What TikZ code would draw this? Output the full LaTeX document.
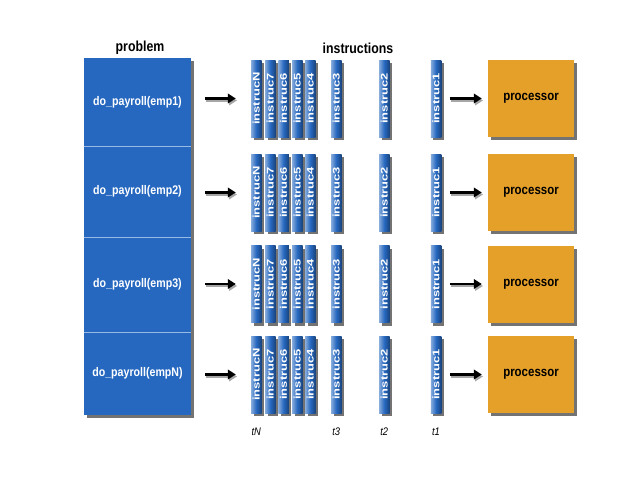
\documentclass[tikz,border=0pt]{standalone}
\usepackage{fontspec}
\setmainfont{Liberation Sans}
\newfontfamily\condfont{Liberation Sans}[FakeStretch=0.85]
\usepackage{graphicx}
\usetikzlibrary{shadows,arrows.meta}
\definecolor{pblue}{RGB}{38,104,192}
\definecolor{porange}{RGB}{229,160,42}
\definecolor{sepline}{RGB}{150,185,230}
\tikzset{
  shad/.style={drop shadow={shadow xshift=2.5pt,shadow yshift=-3pt,opacity=0.55,fill=black}},
  probrow/.style={minimum width=107pt,inner sep=0pt,text=white,font=\condfont\bfseries\fontsize{12.5}{14}\selectfont},
  bar/.style={shad,minimum width=10.5pt,minimum height=77pt,inner sep=0pt,left color=pblue!55!white,right color=pblue!65!black,middle color=pblue,text=white,font=\bfseries\fontsize{9.6}{10}\selectfont},
  proc/.style={shad,fill=porange,minimum width=86pt,minimum height=77pt,inner sep=0pt,font=\condfont\bfseries\fontsize{13.5}{15}\selectfont},
  title/.style={font=\condfont\bfseries\fontsize{14.5}{16}\selectfont},
  tlab/.style={font=\condfont\itshape\fontsize{11}{12}\selectfont},
  arr/.style={line width=2.6pt,-{Triangle[length=8pt,width=9.5pt]},preaction={draw=black!35,line width=2.6pt,transform canvas={shift={(1.2pt,-2pt)}}}}
}
\newcommand{\barlab}[1]{\rotatebox{90}{\scalebox{1.35}[1]{#1}}}
\begin{document}
\begin{tikzpicture}[x=1pt,y=-1pt]
\useasboundingbox (0,0) rectangle (638,479);
\fill[white] (0,0) rectangle (638,479);
% problem column
\node[shad,fill=pblue,minimum width=107pt,minimum height=357pt,inner sep=0pt] (pbox) at (137.5,236.5) {};
\node[probrow,minimum height=88pt] (p1) at (137.5,102) {do\_payroll(emp1)};
\node[probrow,minimum height=91pt] (p2) at (137.5,191.5) {do\_payroll(emp2)};
\node[probrow,minimum height=95pt] (p3) at (137.5,284.5) {do\_payroll(emp3)};
\node[probrow,minimum height=83pt] (p4) at (137.5,373.5) {do\_payroll(empN)};
\draw[sepline,line width=0.8pt] (p1.south west) -- (p1.south east);
\draw[sepline,line width=0.8pt] (p2.south west) -- (p2.south east);
\draw[sepline,line width=0.8pt] (p3.south west) -- (p3.south east);
\node[title] (tprob) at (140,48) {problem};
\node[title] (tinst) at (358,48) {instructions};
% instruction bars and processors
\foreach \r/\yc in {1/98.5,2/192.5,3/284,4/374.5}{
  \foreach \n/\lab/\xc in {N/instrucN/256.25,7/instruc7/270.25,6/instruc6/283.5,5/instruc5/297.25,4/instruc4/310.25,3/instruc3/336.25,2/instruc2/384.25,1/instruc1/436}{
    \node[bar] (b\r\n) at (\xc,\yc) {\barlab{\lab}};
  }
  \node[proc] (pr\r) at (531,\yc) {processor};
  \draw[arr,shorten <=14pt,shorten >=15pt] (p\r.east |- b\r N.west) -- (b\r N.west);
  \draw[arr,shorten <=8.5pt,shorten >=6pt] (b\r 1.east) -- (pr\r.west);
}
\node[tlab] (tN) at (b4N |- 0,432) {tN};
\node[tlab] (t3) at (b43 |- 0,432) {t3};
\node[tlab] (t2) at (b42 |- 0,432) {t2};
\node[tlab] (t1) at (b41 |- 0,432) {t1};
\end{tikzpicture}
\end{document}
